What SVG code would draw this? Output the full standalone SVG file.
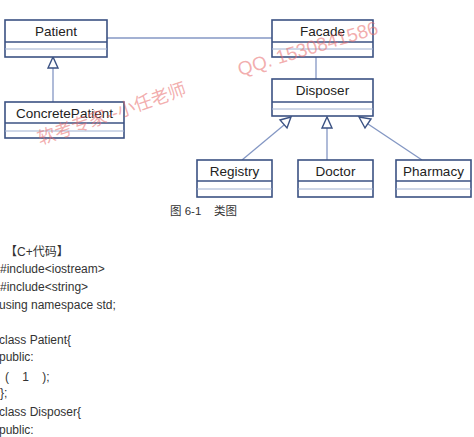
<svg xmlns="http://www.w3.org/2000/svg" width="474" height="437" viewBox="0 0 474 437">
<style>
.box{fill:#fff;stroke:#3b5283;stroke-width:1.6}
.div{stroke:#3b5283;stroke-width:1.3}
.div2{stroke:#9fb0d0;stroke-width:1}
.nm{font-family:"Liberation Sans","Noto Sans CJK SC",sans-serif;font-size:13.5px;fill:#222;text-anchor:middle}
.con{stroke:#8497c4;stroke-width:1.3;fill:none}
.tri{fill:#fff;stroke:#3b5283;stroke-width:1.4}
.code{font-family:"Liberation Sans","Noto Sans CJK SC",sans-serif;font-size:12px;fill:#333}
.wm{font-family:"Liberation Sans","Noto Sans CJK SC",sans-serif;fill:#e86a6a;fill-opacity:0.55}
</style>
<rect width="474" height="437" fill="#fff"/>
<g id="connectors">
<line class="con" x1="107" y1="38" x2="272" y2="38"/>
<line class="con" x1="316" y1="57" x2="316" y2="79"/>
<line class="con" x1="53" y1="68" x2="53" y2="102"/>
<polygon class="tri" points="53,57 48,68 58,68"/>
<line class="con" x1="242" y1="160" x2="284" y2="125"/>
<polygon class="tri" points="291,117 280,120 287,128"/>
<line class="con" x1="327" y1="160" x2="327" y2="128"/>
<polygon class="tri" points="327,117 322,128 332,128"/>
<line class="con" x1="422" y1="160" x2="368" y2="124"/>
<polygon class="tri" points="359,117 365,128 371,119"/>
</g>
<g id="Patient">
<rect class="box" x="5" y="20" width="102" height="37"/>
<line class="div" x1="5" y1="42" x2="107" y2="42"/>
<line class="div2" x1="5" y1="49" x2="107" y2="49"/>
<text class="nm" x="56" y="36">Patient</text>
</g>
<g id="ConcretePatient">
<rect class="box" x="5" y="102" width="119" height="36"/>
<line class="div" x1="5" y1="123" x2="124" y2="123"/>
<line class="div2" x1="5" y1="131" x2="124" y2="131"/>
<text class="nm" x="64.5" y="118">ConcretePatient</text>
</g>
<g id="Facade">
<rect class="box" x="272" y="20" width="101" height="37"/>
<line class="div" x1="272" y1="42" x2="373" y2="42"/>
<line class="div2" x1="272" y1="49" x2="373" y2="49"/>
<text class="nm" x="322.5" y="36">Facade</text>
</g>
<g id="Disposer">
<rect class="box" x="272" y="79" width="101" height="37"/>
<line class="div" x1="272" y1="102" x2="373" y2="102"/>
<line class="div2" x1="272" y1="109" x2="373" y2="109"/>
<text class="nm" x="322.5" y="95">Disposer</text>
</g>
<g id="Registry">
<rect class="box" x="197" y="160" width="75" height="37"/>
<line class="div" x1="197" y1="181" x2="272" y2="181"/>
<line class="div2" x1="197" y1="189" x2="272" y2="189"/>
<text class="nm" x="234.5" y="176">Registry</text>
</g>
<g id="Doctor">
<rect class="box" x="298" y="160" width="75" height="37"/>
<line class="div" x1="298" y1="181" x2="373" y2="181"/>
<line class="div2" x1="298" y1="189" x2="373" y2="189"/>
<text class="nm" x="335.5" y="176">Doctor</text>
</g>
<g id="Pharmacy">
<rect class="box" x="396" y="160" width="75" height="37"/>
<line class="div" x1="396" y1="181" x2="471" y2="181"/>
<line class="div2" x1="396" y1="189" x2="471" y2="189"/>
<text class="nm" x="433.5" y="176">Pharmacy</text>
</g>
<text class="code" x="170" y="215" style="font-size:11.5px" xml:space="preserve">图 6-1    类图</text>
<g id="code">
<text class="code" x="5" y="256">【C+代码】</text>
<text class="code" x="0" y="273">#include&lt;iostream&gt;</text>
<text class="code" x="0" y="291">#include&lt;string&gt;</text>
<text class="code" x="-1" y="309">using namespace std;</text>
<text class="code" x="-1" y="344">class Patient{</text>
<text class="code" x="-1" y="361">public:</text>
<text class="code" x="5" y="381" xml:space="preserve">(    1    );</text>
<text class="code" x="0" y="397">};</text>
<text class="code" x="-1" y="416">class Disposer{</text>
<text class="code" x="-1" y="434">public:</text>
</g>
<text class="wm" x="40" y="145" font-size="18" transform="rotate(-19 40 145)">软考专家--小任老师</text>
<text class="wm" x="240" y="76" font-size="19" transform="rotate(-17 240 76)">QQ. 1530841586</text>
</svg>
